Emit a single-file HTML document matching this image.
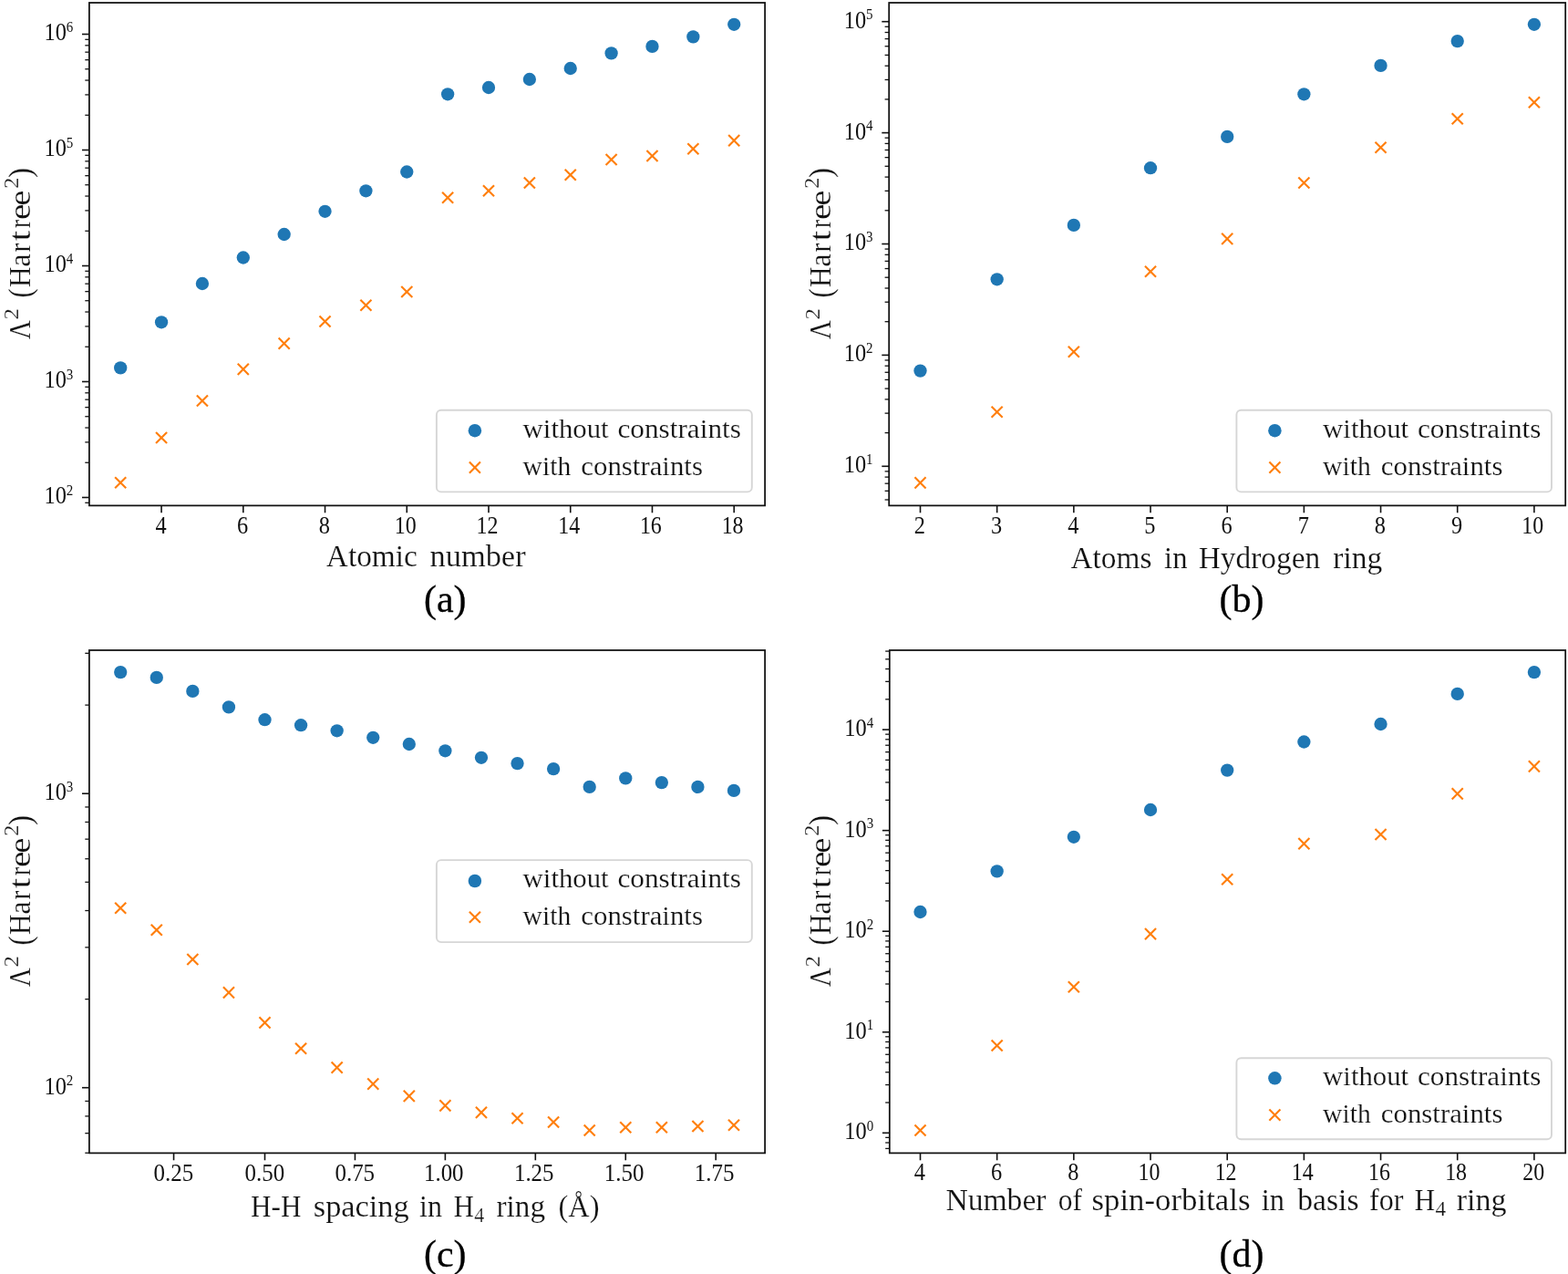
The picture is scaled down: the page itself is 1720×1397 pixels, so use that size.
<!DOCTYPE html>
<html lang="en">
<head>
<meta charset="utf-8">
<title>Figure</title>
<style>
html,body{margin:0;padding:0;background:#fff;}
body{width:1720px;height:1397px;overflow:hidden;}
svg{display:block;}
svg text.tk{stroke:none;}
svg text{font-family:"Liberation Serif",serif;fill:#111;white-space:pre;stroke:#fff;stroke-width:0.2px;}
</style>
</head>
<body>
<svg width="1720" height="1397" viewBox="0 0 1720 1397">
<rect width="1720" height="1397" fill="#fff"/>
<g id="panel-a">
<circle cx="132.2" cy="403.4" r="7.15" fill="#1f77b4"/>
<circle cx="177.07" cy="353.3" r="7.15" fill="#1f77b4"/>
<circle cx="221.93" cy="311" r="7.15" fill="#1f77b4"/>
<circle cx="266.8" cy="282.5" r="7.15" fill="#1f77b4"/>
<circle cx="311.67" cy="257" r="7.15" fill="#1f77b4"/>
<circle cx="356.53" cy="231.8" r="7.15" fill="#1f77b4"/>
<circle cx="401.4" cy="209.3" r="7.15" fill="#1f77b4"/>
<circle cx="446.27" cy="188.5" r="7.15" fill="#1f77b4"/>
<circle cx="491.14" cy="103.3" r="7.15" fill="#1f77b4"/>
<circle cx="536" cy="96" r="7.15" fill="#1f77b4"/>
<circle cx="580.87" cy="87" r="7.15" fill="#1f77b4"/>
<circle cx="625.74" cy="75" r="7.15" fill="#1f77b4"/>
<circle cx="670.6" cy="58.4" r="7.15" fill="#1f77b4"/>
<circle cx="715.47" cy="50.9" r="7.15" fill="#1f77b4"/>
<circle cx="760.34" cy="40.4" r="7.15" fill="#1f77b4"/>
<circle cx="805.2" cy="26.8" r="7.15" fill="#1f77b4"/>
<path d="M126.15 523.15L138.25 535.25M126.15 535.25L138.25 523.15" stroke="#ff7f0e" stroke-width="2.15" fill="none"/>
<path d="M171.02 473.95L183.12 486.05M171.02 486.05L183.12 473.95" stroke="#ff7f0e" stroke-width="2.15" fill="none"/>
<path d="M215.88 433.45L227.98 445.55M215.88 445.55L227.98 433.45" stroke="#ff7f0e" stroke-width="2.15" fill="none"/>
<path d="M260.75 398.85L272.85 410.95M260.75 410.95L272.85 398.85" stroke="#ff7f0e" stroke-width="2.15" fill="none"/>
<path d="M305.62 370.55L317.72 382.65M305.62 382.65L317.72 370.55" stroke="#ff7f0e" stroke-width="2.15" fill="none"/>
<path d="M350.48 346.45L362.58 358.55M350.48 358.55L362.58 346.45" stroke="#ff7f0e" stroke-width="2.15" fill="none"/>
<path d="M395.35 328.75L407.45 340.85M395.35 340.85L407.45 328.75" stroke="#ff7f0e" stroke-width="2.15" fill="none"/>
<path d="M440.22 313.95L452.32 326.05M440.22 326.05L452.32 313.95" stroke="#ff7f0e" stroke-width="2.15" fill="none"/>
<path d="M485.09 210.75L497.19 222.85M485.09 222.85L497.19 210.75" stroke="#ff7f0e" stroke-width="2.15" fill="none"/>
<path d="M529.95 203.25L542.05 215.35M529.95 215.35L542.05 203.25" stroke="#ff7f0e" stroke-width="2.15" fill="none"/>
<path d="M574.82 194.45L586.92 206.55M574.82 206.55L586.92 194.45" stroke="#ff7f0e" stroke-width="2.15" fill="none"/>
<path d="M619.69 185.65L631.79 197.75M619.69 197.75L631.79 185.65" stroke="#ff7f0e" stroke-width="2.15" fill="none"/>
<path d="M664.55 168.95L676.65 181.05M664.55 181.05L676.65 168.95" stroke="#ff7f0e" stroke-width="2.15" fill="none"/>
<path d="M709.42 164.95L721.52 177.05M709.42 177.05L721.52 164.95" stroke="#ff7f0e" stroke-width="2.15" fill="none"/>
<path d="M754.29 157.15L766.39 169.25M754.29 169.25L766.39 157.15" stroke="#ff7f0e" stroke-width="2.15" fill="none"/>
<path d="M799.15 148.05L811.25 160.15M799.15 160.15L811.25 148.05" stroke="#ff7f0e" stroke-width="2.15" fill="none"/>
<rect x="97.9" y="3" width="741.2" height="551.4" fill="none" stroke="#111" stroke-width="1.75"/>
<path d="M177.07 554.4v7.9" stroke="#111" stroke-width="1.6"/>
<text class="tk" transform="translate(176.47 585.2) scale(0.87 1)" font-size="28" text-anchor="middle">4</text>
<path d="M266.8 554.4v7.9" stroke="#111" stroke-width="1.6"/>
<text class="tk" transform="translate(266.2 585.2) scale(0.87 1)" font-size="28" text-anchor="middle">6</text>
<path d="M356.53 554.4v7.9" stroke="#111" stroke-width="1.6"/>
<text class="tk" transform="translate(355.93 585.2) scale(0.87 1)" font-size="28" text-anchor="middle">8</text>
<path d="M446.27 554.4v7.9" stroke="#111" stroke-width="1.6"/>
<text class="tk" transform="translate(444.67 585.2) scale(0.855 1)" font-size="28" text-anchor="middle">10</text>
<path d="M536 554.4v7.9" stroke="#111" stroke-width="1.6"/>
<text class="tk" transform="translate(534.4 585.2) scale(0.855 1)" font-size="28" text-anchor="middle">12</text>
<path d="M625.74 554.4v7.9" stroke="#111" stroke-width="1.6"/>
<text class="tk" transform="translate(624.14 585.2) scale(0.855 1)" font-size="28" text-anchor="middle">14</text>
<path d="M715.47 554.4v7.9" stroke="#111" stroke-width="1.6"/>
<text class="tk" transform="translate(713.87 585.2) scale(0.855 1)" font-size="28" text-anchor="middle">16</text>
<path d="M805.2 554.4v7.9" stroke="#111" stroke-width="1.6"/>
<text class="tk" transform="translate(803.6 585.2) scale(0.855 1)" font-size="28" text-anchor="middle">18</text>
<path d="M97.9 551.31h-4.6" stroke="#111" stroke-width="1.3"/>
<path d="M97.9 545.5h-7.9" stroke="#111" stroke-width="1.6"/>
<text class="tk" transform="translate(80.3 552.4) scale(0.87 1)" font-size="28" text-anchor="end">10<tspan dy="-9.4" font-size="17.2">2</tspan></text>
<path d="M97.9 507.27h-4.6" stroke="#111" stroke-width="1.3"/>
<path d="M97.9 484.91h-4.6" stroke="#111" stroke-width="1.3"/>
<path d="M97.9 469.04h-4.6" stroke="#111" stroke-width="1.3"/>
<path d="M97.9 456.73h-4.6" stroke="#111" stroke-width="1.3"/>
<path d="M97.9 446.67h-4.6" stroke="#111" stroke-width="1.3"/>
<path d="M97.9 438.17h-4.6" stroke="#111" stroke-width="1.3"/>
<path d="M97.9 430.81h-4.6" stroke="#111" stroke-width="1.3"/>
<path d="M97.9 424.31h-4.6" stroke="#111" stroke-width="1.3"/>
<path d="M97.9 418.5h-7.9" stroke="#111" stroke-width="1.6"/>
<text class="tk" transform="translate(80.3 425.4) scale(0.87 1)" font-size="28" text-anchor="end">10<tspan dy="-9.4" font-size="17.2">3</tspan></text>
<path d="M97.9 380.27h-4.6" stroke="#111" stroke-width="1.3"/>
<path d="M97.9 357.91h-4.6" stroke="#111" stroke-width="1.3"/>
<path d="M97.9 342.04h-4.6" stroke="#111" stroke-width="1.3"/>
<path d="M97.9 329.73h-4.6" stroke="#111" stroke-width="1.3"/>
<path d="M97.9 319.67h-4.6" stroke="#111" stroke-width="1.3"/>
<path d="M97.9 311.17h-4.6" stroke="#111" stroke-width="1.3"/>
<path d="M97.9 303.81h-4.6" stroke="#111" stroke-width="1.3"/>
<path d="M97.9 297.31h-4.6" stroke="#111" stroke-width="1.3"/>
<path d="M97.9 291.5h-7.9" stroke="#111" stroke-width="1.6"/>
<text class="tk" transform="translate(80.3 298.4) scale(0.87 1)" font-size="28" text-anchor="end">10<tspan dy="-9.4" font-size="17.2">4</tspan></text>
<path d="M97.9 253.27h-4.6" stroke="#111" stroke-width="1.3"/>
<path d="M97.9 230.91h-4.6" stroke="#111" stroke-width="1.3"/>
<path d="M97.9 215.04h-4.6" stroke="#111" stroke-width="1.3"/>
<path d="M97.9 202.73h-4.6" stroke="#111" stroke-width="1.3"/>
<path d="M97.9 192.67h-4.6" stroke="#111" stroke-width="1.3"/>
<path d="M97.9 184.17h-4.6" stroke="#111" stroke-width="1.3"/>
<path d="M97.9 176.81h-4.6" stroke="#111" stroke-width="1.3"/>
<path d="M97.9 170.31h-4.6" stroke="#111" stroke-width="1.3"/>
<path d="M97.9 164.5h-7.9" stroke="#111" stroke-width="1.6"/>
<text class="tk" transform="translate(80.3 171.4) scale(0.87 1)" font-size="28" text-anchor="end">10<tspan dy="-9.4" font-size="17.2">5</tspan></text>
<path d="M97.9 126.27h-4.6" stroke="#111" stroke-width="1.3"/>
<path d="M97.9 103.91h-4.6" stroke="#111" stroke-width="1.3"/>
<path d="M97.9 88.04h-4.6" stroke="#111" stroke-width="1.3"/>
<path d="M97.9 75.73h-4.6" stroke="#111" stroke-width="1.3"/>
<path d="M97.9 65.67h-4.6" stroke="#111" stroke-width="1.3"/>
<path d="M97.9 57.17h-4.6" stroke="#111" stroke-width="1.3"/>
<path d="M97.9 49.81h-4.6" stroke="#111" stroke-width="1.3"/>
<path d="M97.9 43.31h-4.6" stroke="#111" stroke-width="1.3"/>
<path d="M97.9 37.5h-7.9" stroke="#111" stroke-width="1.6"/>
<text class="tk" transform="translate(80.3 44.4) scale(0.87 1)" font-size="28" text-anchor="end">10<tspan dy="-9.4" font-size="17.2">6</tspan></text>
<text font-size="33"><tspan x="357.8" y="621.2" textLength="100.1" lengthAdjust="spacingAndGlyphs">Atomic</tspan> <tspan x="471.5" y="621.2" textLength="105.1" lengthAdjust="spacingAndGlyphs">number</tspan></text>
<g transform="translate(33 371.6) rotate(-90)"><text font-size="33"><tspan x="-0.35" y="0" textLength="20.78" lengthAdjust="spacingAndGlyphs" font-size="33">Λ</tspan><tspan x="21.05" y="-12.8" textLength="12.43" lengthAdjust="spacingAndGlyphs" font-size="22.5">2</tspan> <tspan x="45.1" y="1" textLength="10" lengthAdjust="spacingAndGlyphs" font-size="36.5">(</tspan><tspan x="56.4" y="0" textLength="22.98" lengthAdjust="spacingAndGlyphs" font-size="33">H</tspan><tspan x="79.2" y="0" textLength="14.07" lengthAdjust="spacingAndGlyphs" font-size="33">a</tspan><tspan x="95.05" y="0" textLength="9.86" lengthAdjust="spacingAndGlyphs" font-size="33">r</tspan><tspan x="107.3" y="0" textLength="11.4" lengthAdjust="spacingAndGlyphs" font-size="33">t</tspan><tspan x="121.7" y="0" textLength="9.01" lengthAdjust="spacingAndGlyphs" font-size="33">r</tspan><tspan x="130.55" y="0" textLength="17.38" lengthAdjust="spacingAndGlyphs" font-size="33">e</tspan><tspan x="145.85" y="0" textLength="17.13" lengthAdjust="spacingAndGlyphs" font-size="33">e</tspan><tspan x="164.9" y="-13.4" textLength="12.06" lengthAdjust="spacingAndGlyphs" font-size="22.5">2</tspan><tspan x="176.55" y="1" textLength="11.18" lengthAdjust="spacingAndGlyphs" font-size="36.5">)</tspan></text></g>
<rect x="478.9" y="449.8" width="345.9" height="89.6" rx="5" ry="5" fill="#fff" fill-opacity="0.8" stroke="#ccc" stroke-opacity="0.8" stroke-width="1.9"/>
<circle cx="520.9" cy="472.2" r="7.25" fill="#1f77b4"/>
<path d="M514.85 506.55L526.95 518.65M514.85 518.65L526.95 506.55" stroke="#ff7f0e" stroke-width="2.15" fill="none"/>
<text font-size="29.5"><tspan x="573.6" y="480.4" textLength="94.1" lengthAdjust="spacingAndGlyphs">without</tspan> <tspan x="677.5" y="480.4" textLength="135.4" lengthAdjust="spacingAndGlyphs">constraints</tspan></text>
<text font-size="29.5"><tspan x="573.6" y="520.7" textLength="52.6" lengthAdjust="spacingAndGlyphs">with</tspan> <tspan x="637.3" y="520.7" textLength="133.6" lengthAdjust="spacingAndGlyphs">constraints</tspan></text>
<text x="488.3" y="671.2" font-size="42" text-anchor="middle" style="fill:#000;stroke:#000;stroke-width:0.3px">(a)</text>
</g>
<g id="panel-b">
<circle cx="1009.5" cy="406.6" r="7.15" fill="#1f77b4"/>
<circle cx="1093.67" cy="306.3" r="7.15" fill="#1f77b4"/>
<circle cx="1177.85" cy="246.9" r="7.15" fill="#1f77b4"/>
<circle cx="1262.03" cy="184.2" r="7.15" fill="#1f77b4"/>
<circle cx="1346.2" cy="149.9" r="7.15" fill="#1f77b4"/>
<circle cx="1430.38" cy="103.3" r="7.15" fill="#1f77b4"/>
<circle cx="1514.55" cy="71.9" r="7.15" fill="#1f77b4"/>
<circle cx="1598.72" cy="45.1" r="7.15" fill="#1f77b4"/>
<circle cx="1682.9" cy="26.8" r="7.15" fill="#1f77b4"/>
<path d="M1003.45 523.35L1015.55 535.45M1003.45 535.45L1015.55 523.35" stroke="#ff7f0e" stroke-width="2.15" fill="none"/>
<path d="M1087.62 445.75L1099.72 457.85M1087.62 457.85L1099.72 445.75" stroke="#ff7f0e" stroke-width="2.15" fill="none"/>
<path d="M1171.8 379.75L1183.9 391.85M1171.8 391.85L1183.9 379.75" stroke="#ff7f0e" stroke-width="2.15" fill="none"/>
<path d="M1255.98 291.65L1268.08 303.75M1255.98 303.75L1268.08 291.65" stroke="#ff7f0e" stroke-width="2.15" fill="none"/>
<path d="M1340.15 255.85L1352.25 267.95M1340.15 267.95L1352.25 255.85" stroke="#ff7f0e" stroke-width="2.15" fill="none"/>
<path d="M1424.33 194.45L1436.42 206.55M1424.33 206.55L1436.42 194.45" stroke="#ff7f0e" stroke-width="2.15" fill="none"/>
<path d="M1508.5 155.65L1520.6 167.75M1508.5 167.75L1520.6 155.65" stroke="#ff7f0e" stroke-width="2.15" fill="none"/>
<path d="M1592.67 124.25L1604.77 136.35M1592.67 136.35L1604.77 124.25" stroke="#ff7f0e" stroke-width="2.15" fill="none"/>
<path d="M1676.85 106.25L1688.95 118.35M1676.85 118.35L1688.95 106.25" stroke="#ff7f0e" stroke-width="2.15" fill="none"/>
<rect x="975.2" y="3" width="742" height="551.4" fill="none" stroke="#111" stroke-width="1.75"/>
<path d="M1009.5 554.4v7.9" stroke="#111" stroke-width="1.6"/>
<text class="tk" transform="translate(1008.9 585.2) scale(0.87 1)" font-size="28" text-anchor="middle">2</text>
<path d="M1093.67 554.4v7.9" stroke="#111" stroke-width="1.6"/>
<text class="tk" transform="translate(1093.08 585.2) scale(0.87 1)" font-size="28" text-anchor="middle">3</text>
<path d="M1177.85 554.4v7.9" stroke="#111" stroke-width="1.6"/>
<text class="tk" transform="translate(1177.25 585.2) scale(0.87 1)" font-size="28" text-anchor="middle">4</text>
<path d="M1262.03 554.4v7.9" stroke="#111" stroke-width="1.6"/>
<text class="tk" transform="translate(1261.43 585.2) scale(0.87 1)" font-size="28" text-anchor="middle">5</text>
<path d="M1346.2 554.4v7.9" stroke="#111" stroke-width="1.6"/>
<text class="tk" transform="translate(1345.6 585.2) scale(0.87 1)" font-size="28" text-anchor="middle">6</text>
<path d="M1430.38 554.4v7.9" stroke="#111" stroke-width="1.6"/>
<text class="tk" transform="translate(1429.78 585.2) scale(0.87 1)" font-size="28" text-anchor="middle">7</text>
<path d="M1514.55 554.4v7.9" stroke="#111" stroke-width="1.6"/>
<text class="tk" transform="translate(1513.95 585.2) scale(0.87 1)" font-size="28" text-anchor="middle">8</text>
<path d="M1598.72 554.4v7.9" stroke="#111" stroke-width="1.6"/>
<text class="tk" transform="translate(1598.12 585.2) scale(0.87 1)" font-size="28" text-anchor="middle">9</text>
<path d="M1682.9 554.4v7.9" stroke="#111" stroke-width="1.6"/>
<text class="tk" transform="translate(1681.3 585.2) scale(0.855 1)" font-size="28" text-anchor="middle">10</text>
<path d="M975.2 548h-4.6" stroke="#111" stroke-width="1.3"/>
<path d="M975.2 538.34h-4.6" stroke="#111" stroke-width="1.3"/>
<path d="M975.2 530.18h-4.6" stroke="#111" stroke-width="1.3"/>
<path d="M975.2 523.11h-4.6" stroke="#111" stroke-width="1.3"/>
<path d="M975.2 516.88h-4.6" stroke="#111" stroke-width="1.3"/>
<path d="M975.2 511.3h-7.9" stroke="#111" stroke-width="1.6"/>
<text class="tk" transform="translate(957.6 518.2) scale(0.87 1)" font-size="28" text-anchor="end">10<tspan dy="-9.4" font-size="17.2">1</tspan></text>
<path d="M975.2 474.6h-4.6" stroke="#111" stroke-width="1.3"/>
<path d="M975.2 453.14h-4.6" stroke="#111" stroke-width="1.3"/>
<path d="M975.2 437.91h-4.6" stroke="#111" stroke-width="1.3"/>
<path d="M975.2 426.1h-4.6" stroke="#111" stroke-width="1.3"/>
<path d="M975.2 416.44h-4.6" stroke="#111" stroke-width="1.3"/>
<path d="M975.2 408.28h-4.6" stroke="#111" stroke-width="1.3"/>
<path d="M975.2 401.21h-4.6" stroke="#111" stroke-width="1.3"/>
<path d="M975.2 394.98h-4.6" stroke="#111" stroke-width="1.3"/>
<path d="M975.2 389.4h-7.9" stroke="#111" stroke-width="1.6"/>
<text class="tk" transform="translate(957.6 396.3) scale(0.87 1)" font-size="28" text-anchor="end">10<tspan dy="-9.4" font-size="17.2">2</tspan></text>
<path d="M975.2 352.7h-4.6" stroke="#111" stroke-width="1.3"/>
<path d="M975.2 331.24h-4.6" stroke="#111" stroke-width="1.3"/>
<path d="M975.2 316.01h-4.6" stroke="#111" stroke-width="1.3"/>
<path d="M975.2 304.2h-4.6" stroke="#111" stroke-width="1.3"/>
<path d="M975.2 294.54h-4.6" stroke="#111" stroke-width="1.3"/>
<path d="M975.2 286.38h-4.6" stroke="#111" stroke-width="1.3"/>
<path d="M975.2 279.31h-4.6" stroke="#111" stroke-width="1.3"/>
<path d="M975.2 273.08h-4.6" stroke="#111" stroke-width="1.3"/>
<path d="M975.2 267.5h-7.9" stroke="#111" stroke-width="1.6"/>
<text class="tk" transform="translate(957.6 274.4) scale(0.87 1)" font-size="28" text-anchor="end">10<tspan dy="-9.4" font-size="17.2">3</tspan></text>
<path d="M975.2 230.8h-4.6" stroke="#111" stroke-width="1.3"/>
<path d="M975.2 209.34h-4.6" stroke="#111" stroke-width="1.3"/>
<path d="M975.2 194.11h-4.6" stroke="#111" stroke-width="1.3"/>
<path d="M975.2 182.3h-4.6" stroke="#111" stroke-width="1.3"/>
<path d="M975.2 172.64h-4.6" stroke="#111" stroke-width="1.3"/>
<path d="M975.2 164.48h-4.6" stroke="#111" stroke-width="1.3"/>
<path d="M975.2 157.41h-4.6" stroke="#111" stroke-width="1.3"/>
<path d="M975.2 151.18h-4.6" stroke="#111" stroke-width="1.3"/>
<path d="M975.2 145.6h-7.9" stroke="#111" stroke-width="1.6"/>
<text class="tk" transform="translate(957.6 152.5) scale(0.87 1)" font-size="28" text-anchor="end">10<tspan dy="-9.4" font-size="17.2">4</tspan></text>
<path d="M975.2 108.9h-4.6" stroke="#111" stroke-width="1.3"/>
<path d="M975.2 87.44h-4.6" stroke="#111" stroke-width="1.3"/>
<path d="M975.2 72.21h-4.6" stroke="#111" stroke-width="1.3"/>
<path d="M975.2 60.4h-4.6" stroke="#111" stroke-width="1.3"/>
<path d="M975.2 50.74h-4.6" stroke="#111" stroke-width="1.3"/>
<path d="M975.2 42.58h-4.6" stroke="#111" stroke-width="1.3"/>
<path d="M975.2 35.51h-4.6" stroke="#111" stroke-width="1.3"/>
<path d="M975.2 29.28h-4.6" stroke="#111" stroke-width="1.3"/>
<path d="M975.2 23.7h-7.9" stroke="#111" stroke-width="1.6"/>
<text class="tk" transform="translate(957.6 30.6) scale(0.87 1)" font-size="28" text-anchor="end">10<tspan dy="-9.4" font-size="17.2">5</tspan></text>
<text font-size="33"><tspan x="1174.4" y="623.3" textLength="89" lengthAdjust="spacingAndGlyphs">Atoms</tspan> <tspan x="1277.1" y="623.3" textLength="25.4" lengthAdjust="spacingAndGlyphs">in</tspan> <tspan x="1314.7" y="623.3" textLength="133.6" lengthAdjust="spacingAndGlyphs">Hydrogen</tspan> <tspan x="1462.3" y="623.3" textLength="53.9" lengthAdjust="spacingAndGlyphs">ring</tspan></text>
<g transform="translate(911.4 371.6) rotate(-90)"><text font-size="33"><tspan x="-0.35" y="0" textLength="20.78" lengthAdjust="spacingAndGlyphs" font-size="33">Λ</tspan><tspan x="21.05" y="-12.8" textLength="12.43" lengthAdjust="spacingAndGlyphs" font-size="22.5">2</tspan> <tspan x="45.1" y="1" textLength="10" lengthAdjust="spacingAndGlyphs" font-size="36.5">(</tspan><tspan x="56.4" y="0" textLength="22.98" lengthAdjust="spacingAndGlyphs" font-size="33">H</tspan><tspan x="79.2" y="0" textLength="14.07" lengthAdjust="spacingAndGlyphs" font-size="33">a</tspan><tspan x="95.05" y="0" textLength="9.86" lengthAdjust="spacingAndGlyphs" font-size="33">r</tspan><tspan x="107.3" y="0" textLength="11.4" lengthAdjust="spacingAndGlyphs" font-size="33">t</tspan><tspan x="121.7" y="0" textLength="9.01" lengthAdjust="spacingAndGlyphs" font-size="33">r</tspan><tspan x="130.55" y="0" textLength="17.38" lengthAdjust="spacingAndGlyphs" font-size="33">e</tspan><tspan x="145.85" y="0" textLength="17.13" lengthAdjust="spacingAndGlyphs" font-size="33">e</tspan><tspan x="164.9" y="-13.4" textLength="12.06" lengthAdjust="spacingAndGlyphs" font-size="22.5">2</tspan><tspan x="176.55" y="1" textLength="11.18" lengthAdjust="spacingAndGlyphs" font-size="36.5">)</tspan></text></g>
<rect x="1356.4" y="449.8" width="345.6" height="89.6" rx="5" ry="5" fill="#fff" fill-opacity="0.8" stroke="#ccc" stroke-opacity="0.8" stroke-width="1.9"/>
<circle cx="1398.4" cy="472.2" r="7.25" fill="#1f77b4"/>
<path d="M1392.35 506.55L1404.45 518.65M1392.35 518.65L1404.45 506.55" stroke="#ff7f0e" stroke-width="2.15" fill="none"/>
<text font-size="29.5"><tspan x="1451.1" y="480.4" textLength="94.1" lengthAdjust="spacingAndGlyphs">without</tspan> <tspan x="1555" y="480.4" textLength="135.4" lengthAdjust="spacingAndGlyphs">constraints</tspan></text>
<text font-size="29.5"><tspan x="1451.1" y="520.7" textLength="52.6" lengthAdjust="spacingAndGlyphs">with</tspan> <tspan x="1514.8" y="520.7" textLength="133.6" lengthAdjust="spacingAndGlyphs">constraints</tspan></text>
<text x="1362.1" y="671.2" font-size="42" text-anchor="middle" style="fill:#000;stroke:#000;stroke-width:0.3px">(b)</text>
</g>
<g id="panel-c">
<circle cx="132.2" cy="737.1" r="7.15" fill="#1f77b4"/>
<circle cx="171.78" cy="742.9" r="7.15" fill="#1f77b4"/>
<circle cx="211.35" cy="757.9" r="7.15" fill="#1f77b4"/>
<circle cx="250.93" cy="775.4" r="7.15" fill="#1f77b4"/>
<circle cx="290.5" cy="789.2" r="7.15" fill="#1f77b4"/>
<circle cx="330.08" cy="795.2" r="7.15" fill="#1f77b4"/>
<circle cx="369.66" cy="801.3" r="7.15" fill="#1f77b4"/>
<circle cx="409.23" cy="808.8" r="7.15" fill="#1f77b4"/>
<circle cx="448.81" cy="816" r="7.15" fill="#1f77b4"/>
<circle cx="488.38" cy="823.3" r="7.15" fill="#1f77b4"/>
<circle cx="527.96" cy="830.8" r="7.15" fill="#1f77b4"/>
<circle cx="567.54" cy="837.1" r="7.15" fill="#1f77b4"/>
<circle cx="607.11" cy="843.1" r="7.15" fill="#1f77b4"/>
<circle cx="646.69" cy="862.9" r="7.15" fill="#1f77b4"/>
<circle cx="686.26" cy="853.4" r="7.15" fill="#1f77b4"/>
<circle cx="725.84" cy="858.1" r="7.15" fill="#1f77b4"/>
<circle cx="765.42" cy="862.9" r="7.15" fill="#1f77b4"/>
<circle cx="804.99" cy="866.9" r="7.15" fill="#1f77b4"/>
<path d="M126.15 989.65L138.25 1001.75M126.15 1001.75L138.25 989.65" stroke="#ff7f0e" stroke-width="2.15" fill="none"/>
<path d="M165.73 1013.75L177.83 1025.85M165.73 1025.85L177.83 1013.75" stroke="#ff7f0e" stroke-width="2.15" fill="none"/>
<path d="M205.3 1045.95L217.4 1058.05M205.3 1058.05L217.4 1045.95" stroke="#ff7f0e" stroke-width="2.15" fill="none"/>
<path d="M244.88 1082.35L256.98 1094.45M244.88 1094.45L256.98 1082.35" stroke="#ff7f0e" stroke-width="2.15" fill="none"/>
<path d="M284.45 1115.35L296.55 1127.45M284.45 1127.45L296.55 1115.35" stroke="#ff7f0e" stroke-width="2.15" fill="none"/>
<path d="M324.03 1143.75L336.13 1155.85M324.03 1155.85L336.13 1143.75" stroke="#ff7f0e" stroke-width="2.15" fill="none"/>
<path d="M363.61 1164.55L375.71 1176.65M363.61 1176.65L375.71 1164.55" stroke="#ff7f0e" stroke-width="2.15" fill="none"/>
<path d="M403.18 1182.55L415.28 1194.65M403.18 1194.65L415.28 1182.55" stroke="#ff7f0e" stroke-width="2.15" fill="none"/>
<path d="M442.76 1195.85L454.86 1207.95M442.76 1207.95L454.86 1195.85" stroke="#ff7f0e" stroke-width="2.15" fill="none"/>
<path d="M482.33 1206.35L494.43 1218.45M482.33 1218.45L494.43 1206.35" stroke="#ff7f0e" stroke-width="2.15" fill="none"/>
<path d="M521.91 1213.85L534.01 1225.95M521.91 1225.95L534.01 1213.85" stroke="#ff7f0e" stroke-width="2.15" fill="none"/>
<path d="M561.49 1220.15L573.59 1232.25M561.49 1232.25L573.59 1220.15" stroke="#ff7f0e" stroke-width="2.15" fill="none"/>
<path d="M601.06 1224.45L613.16 1236.55M601.06 1236.55L613.16 1224.45" stroke="#ff7f0e" stroke-width="2.15" fill="none"/>
<path d="M640.64 1233.45L652.74 1245.55M640.64 1245.55L652.74 1233.45" stroke="#ff7f0e" stroke-width="2.15" fill="none"/>
<path d="M680.21 1230.15L692.31 1242.25M680.21 1242.25L692.31 1230.15" stroke="#ff7f0e" stroke-width="2.15" fill="none"/>
<path d="M719.79 1230.15L731.89 1242.25M719.79 1242.25L731.89 1230.15" stroke="#ff7f0e" stroke-width="2.15" fill="none"/>
<path d="M759.37 1228.95L771.47 1241.05M759.37 1241.05L771.47 1228.95" stroke="#ff7f0e" stroke-width="2.15" fill="none"/>
<path d="M798.94 1227.65L811.04 1239.75M798.94 1239.75L811.04 1227.65" stroke="#ff7f0e" stroke-width="2.15" fill="none"/>
<rect x="97.9" y="713" width="741.2" height="551.4" fill="none" stroke="#111" stroke-width="1.75"/>
<path d="M190.56 1264.4v7.9" stroke="#111" stroke-width="1.6"/>
<text class="tk" transform="translate(190.36 1294.9) scale(0.89 1)" font-size="28" text-anchor="middle">0.25</text>
<path d="M290.5 1264.4v7.9" stroke="#111" stroke-width="1.6"/>
<text class="tk" transform="translate(290.3 1294.9) scale(0.89 1)" font-size="28" text-anchor="middle">0.50</text>
<path d="M389.44 1264.4v7.9" stroke="#111" stroke-width="1.6"/>
<text class="tk" transform="translate(389.24 1294.9) scale(0.89 1)" font-size="28" text-anchor="middle">0.75</text>
<path d="M488.38 1264.4v7.9" stroke="#111" stroke-width="1.6"/>
<text class="tk" transform="translate(486.78 1294.9) scale(0.89 1)" font-size="28" text-anchor="middle">1.00</text>
<path d="M587.32 1264.4v7.9" stroke="#111" stroke-width="1.6"/>
<text class="tk" transform="translate(585.72 1294.9) scale(0.89 1)" font-size="28" text-anchor="middle">1.25</text>
<path d="M686.26 1264.4v7.9" stroke="#111" stroke-width="1.6"/>
<text class="tk" transform="translate(684.66 1294.9) scale(0.89 1)" font-size="28" text-anchor="middle">1.50</text>
<path d="M785.2 1264.4v7.9" stroke="#111" stroke-width="1.6"/>
<text class="tk" transform="translate(783.6 1294.9) scale(0.89 1)" font-size="28" text-anchor="middle">1.75</text>
<path d="M97.9 1264.25h-4.6" stroke="#111" stroke-width="1.3"/>
<path d="M97.9 1242.66h-4.6" stroke="#111" stroke-width="1.3"/>
<path d="M97.9 1223.95h-4.6" stroke="#111" stroke-width="1.3"/>
<path d="M97.9 1207.46h-4.6" stroke="#111" stroke-width="1.3"/>
<path d="M97.9 1192.7h-7.9" stroke="#111" stroke-width="1.6"/>
<text class="tk" transform="translate(80.3 1199.6) scale(0.87 1)" font-size="28" text-anchor="end">10<tspan dy="-9.4" font-size="17.2">2</tspan></text>
<path d="M97.9 1095.62h-4.6" stroke="#111" stroke-width="1.3"/>
<path d="M97.9 1038.83h-4.6" stroke="#111" stroke-width="1.3"/>
<path d="M97.9 998.54h-4.6" stroke="#111" stroke-width="1.3"/>
<path d="M97.9 967.28h-4.6" stroke="#111" stroke-width="1.3"/>
<path d="M97.9 941.75h-4.6" stroke="#111" stroke-width="1.3"/>
<path d="M97.9 920.16h-4.6" stroke="#111" stroke-width="1.3"/>
<path d="M97.9 901.45h-4.6" stroke="#111" stroke-width="1.3"/>
<path d="M97.9 884.96h-4.6" stroke="#111" stroke-width="1.3"/>
<path d="M97.9 870.2h-7.9" stroke="#111" stroke-width="1.6"/>
<text class="tk" transform="translate(80.3 877.1) scale(0.87 1)" font-size="28" text-anchor="end">10<tspan dy="-9.4" font-size="17.2">3</tspan></text>
<path d="M97.9 773.12h-4.6" stroke="#111" stroke-width="1.3"/>
<path d="M97.9 716.33h-4.6" stroke="#111" stroke-width="1.3"/>
<text font-size="33"><tspan x="275" y="1333.8" textLength="55.5" lengthAdjust="spacingAndGlyphs">H-H</tspan> <tspan x="343.75" y="1333.8" textLength="105" lengthAdjust="spacingAndGlyphs">spacing</tspan> <tspan x="460" y="1333.8" textLength="25" lengthAdjust="spacingAndGlyphs">in</tspan> <tspan x="497.5" y="1333.8" textLength="22.5" lengthAdjust="spacingAndGlyphs">H</tspan><tspan x="520.3" y="1340.3" textLength="11" lengthAdjust="spacingAndGlyphs" font-size="22.5">4</tspan> <tspan x="544.5" y="1333.8" textLength="53.5" lengthAdjust="spacingAndGlyphs">ring</tspan> <tspan x="612.5" y="1333.8" textLength="45" lengthAdjust="spacingAndGlyphs">(Å)</tspan></text>
<g transform="translate(33 1081.6) rotate(-90)"><text font-size="33"><tspan x="-0.35" y="0" textLength="20.78" lengthAdjust="spacingAndGlyphs" font-size="33">Λ</tspan><tspan x="21.05" y="-12.8" textLength="12.43" lengthAdjust="spacingAndGlyphs" font-size="22.5">2</tspan> <tspan x="45.1" y="1" textLength="10" lengthAdjust="spacingAndGlyphs" font-size="36.5">(</tspan><tspan x="56.4" y="0" textLength="22.98" lengthAdjust="spacingAndGlyphs" font-size="33">H</tspan><tspan x="79.2" y="0" textLength="14.07" lengthAdjust="spacingAndGlyphs" font-size="33">a</tspan><tspan x="95.05" y="0" textLength="9.86" lengthAdjust="spacingAndGlyphs" font-size="33">r</tspan><tspan x="107.3" y="0" textLength="11.4" lengthAdjust="spacingAndGlyphs" font-size="33">t</tspan><tspan x="121.7" y="0" textLength="9.01" lengthAdjust="spacingAndGlyphs" font-size="33">r</tspan><tspan x="130.55" y="0" textLength="17.38" lengthAdjust="spacingAndGlyphs" font-size="33">e</tspan><tspan x="145.85" y="0" textLength="17.13" lengthAdjust="spacingAndGlyphs" font-size="33">e</tspan><tspan x="164.9" y="-13.4" textLength="12.06" lengthAdjust="spacingAndGlyphs" font-size="22.5">2</tspan><tspan x="176.55" y="1" textLength="11.18" lengthAdjust="spacingAndGlyphs" font-size="36.5">)</tspan></text></g>
<rect x="478.9" y="943.1" width="345.9" height="90" rx="5" ry="5" fill="#fff" fill-opacity="0.8" stroke="#ccc" stroke-opacity="0.8" stroke-width="1.9"/>
<circle cx="520.9" cy="966" r="7.25" fill="#1f77b4"/>
<path d="M514.85 999.65L526.95 1011.75M514.85 1011.75L526.95 999.65" stroke="#ff7f0e" stroke-width="2.15" fill="none"/>
<text font-size="29.5"><tspan x="573.6" y="973.3" textLength="94.1" lengthAdjust="spacingAndGlyphs">without</tspan> <tspan x="677.5" y="973.3" textLength="135.4" lengthAdjust="spacingAndGlyphs">constraints</tspan></text>
<text font-size="29.5"><tspan x="573.6" y="1013.7" textLength="52.6" lengthAdjust="spacingAndGlyphs">with</tspan> <tspan x="637.3" y="1013.7" textLength="133.6" lengthAdjust="spacingAndGlyphs">constraints</tspan></text>
<text x="488.3" y="1389" font-size="42" text-anchor="middle" style="fill:#000;stroke:#000;stroke-width:0.3px">(c)</text>
</g>
<g id="panel-d">
<circle cx="1009.5" cy="1000" r="7.15" fill="#1f77b4"/>
<circle cx="1093.67" cy="955.4" r="7.15" fill="#1f77b4"/>
<circle cx="1177.85" cy="917.8" r="7.15" fill="#1f77b4"/>
<circle cx="1262.03" cy="888" r="7.15" fill="#1f77b4"/>
<circle cx="1346.2" cy="844.6" r="7.15" fill="#1f77b4"/>
<circle cx="1430.38" cy="813.5" r="7.15" fill="#1f77b4"/>
<circle cx="1514.55" cy="794" r="7.15" fill="#1f77b4"/>
<circle cx="1598.72" cy="760.9" r="7.15" fill="#1f77b4"/>
<circle cx="1682.9" cy="737.1" r="7.15" fill="#1f77b4"/>
<path d="M1003.45 1233.45L1015.55 1245.55M1003.45 1245.55L1015.55 1233.45" stroke="#ff7f0e" stroke-width="2.15" fill="none"/>
<path d="M1087.62 1140.45L1099.72 1152.55M1087.62 1152.55L1099.72 1140.45" stroke="#ff7f0e" stroke-width="2.15" fill="none"/>
<path d="M1171.8 1076.25L1183.9 1088.35M1171.8 1088.35L1183.9 1076.25" stroke="#ff7f0e" stroke-width="2.15" fill="none"/>
<path d="M1255.98 1018.05L1268.08 1030.15M1255.98 1030.15L1268.08 1018.05" stroke="#ff7f0e" stroke-width="2.15" fill="none"/>
<path d="M1340.15 958.15L1352.25 970.25M1340.15 970.25L1352.25 958.15" stroke="#ff7f0e" stroke-width="2.15" fill="none"/>
<path d="M1424.33 919.05L1436.42 931.15M1424.33 931.15L1436.42 919.05" stroke="#ff7f0e" stroke-width="2.15" fill="none"/>
<path d="M1508.5 908.95L1520.6 921.05M1508.5 921.05L1520.6 908.95" stroke="#ff7f0e" stroke-width="2.15" fill="none"/>
<path d="M1592.67 864.35L1604.77 876.45M1592.67 876.45L1604.77 864.35" stroke="#ff7f0e" stroke-width="2.15" fill="none"/>
<path d="M1676.85 834.35L1688.95 846.45M1676.85 846.45L1688.95 834.35" stroke="#ff7f0e" stroke-width="2.15" fill="none"/>
<rect x="975.8" y="713" width="741.4" height="551.4" fill="none" stroke="#111" stroke-width="1.75"/>
<path d="M1009.5 1264.4v7.9" stroke="#111" stroke-width="1.6"/>
<text class="tk" transform="translate(1008.9 1294) scale(0.87 1)" font-size="28" text-anchor="middle">4</text>
<path d="M1093.67 1264.4v7.9" stroke="#111" stroke-width="1.6"/>
<text class="tk" transform="translate(1093.08 1294) scale(0.87 1)" font-size="28" text-anchor="middle">6</text>
<path d="M1177.85 1264.4v7.9" stroke="#111" stroke-width="1.6"/>
<text class="tk" transform="translate(1177.25 1294) scale(0.87 1)" font-size="28" text-anchor="middle">8</text>
<path d="M1262.03 1264.4v7.9" stroke="#111" stroke-width="1.6"/>
<text class="tk" transform="translate(1260.43 1294) scale(0.855 1)" font-size="28" text-anchor="middle">10</text>
<path d="M1346.2 1264.4v7.9" stroke="#111" stroke-width="1.6"/>
<text class="tk" transform="translate(1344.6 1294) scale(0.855 1)" font-size="28" text-anchor="middle">12</text>
<path d="M1430.38 1264.4v7.9" stroke="#111" stroke-width="1.6"/>
<text class="tk" transform="translate(1428.78 1294) scale(0.855 1)" font-size="28" text-anchor="middle">14</text>
<path d="M1514.55 1264.4v7.9" stroke="#111" stroke-width="1.6"/>
<text class="tk" transform="translate(1512.95 1294) scale(0.855 1)" font-size="28" text-anchor="middle">16</text>
<path d="M1598.72 1264.4v7.9" stroke="#111" stroke-width="1.6"/>
<text class="tk" transform="translate(1597.12 1294) scale(0.855 1)" font-size="28" text-anchor="middle">18</text>
<path d="M1682.9 1264.4v7.9" stroke="#111" stroke-width="1.6"/>
<text class="tk" transform="translate(1682.3 1294) scale(0.855 1)" font-size="28" text-anchor="middle">20</text>
<path d="M975.8 1259.42h-4.6" stroke="#111" stroke-width="1.3"/>
<path d="M975.8 1253.01h-4.6" stroke="#111" stroke-width="1.3"/>
<path d="M975.8 1247.36h-4.6" stroke="#111" stroke-width="1.3"/>
<path d="M975.8 1242.3h-7.9" stroke="#111" stroke-width="1.6"/>
<text class="tk" transform="translate(958.2 1249.2) scale(0.87 1)" font-size="28" text-anchor="end">10<tspan dy="-9.4" font-size="17.2">0</tspan></text>
<path d="M975.8 1209.02h-4.6" stroke="#111" stroke-width="1.3"/>
<path d="M975.8 1189.55h-4.6" stroke="#111" stroke-width="1.3"/>
<path d="M975.8 1175.74h-4.6" stroke="#111" stroke-width="1.3"/>
<path d="M975.8 1165.03h-4.6" stroke="#111" stroke-width="1.3"/>
<path d="M975.8 1156.28h-4.6" stroke="#111" stroke-width="1.3"/>
<path d="M975.8 1148.87h-4.6" stroke="#111" stroke-width="1.3"/>
<path d="M975.8 1142.46h-4.6" stroke="#111" stroke-width="1.3"/>
<path d="M975.8 1136.81h-4.6" stroke="#111" stroke-width="1.3"/>
<path d="M975.8 1131.75h-7.9" stroke="#111" stroke-width="1.6"/>
<text class="tk" transform="translate(958.2 1138.65) scale(0.87 1)" font-size="28" text-anchor="end">10<tspan dy="-9.4" font-size="17.2">1</tspan></text>
<path d="M975.8 1098.47h-4.6" stroke="#111" stroke-width="1.3"/>
<path d="M975.8 1079h-4.6" stroke="#111" stroke-width="1.3"/>
<path d="M975.8 1065.19h-4.6" stroke="#111" stroke-width="1.3"/>
<path d="M975.8 1054.48h-4.6" stroke="#111" stroke-width="1.3"/>
<path d="M975.8 1045.73h-4.6" stroke="#111" stroke-width="1.3"/>
<path d="M975.8 1038.32h-4.6" stroke="#111" stroke-width="1.3"/>
<path d="M975.8 1031.91h-4.6" stroke="#111" stroke-width="1.3"/>
<path d="M975.8 1026.26h-4.6" stroke="#111" stroke-width="1.3"/>
<path d="M975.8 1021.2h-7.9" stroke="#111" stroke-width="1.6"/>
<text class="tk" transform="translate(958.2 1028.1) scale(0.87 1)" font-size="28" text-anchor="end">10<tspan dy="-9.4" font-size="17.2">2</tspan></text>
<path d="M975.8 987.92h-4.6" stroke="#111" stroke-width="1.3"/>
<path d="M975.8 968.45h-4.6" stroke="#111" stroke-width="1.3"/>
<path d="M975.8 954.64h-4.6" stroke="#111" stroke-width="1.3"/>
<path d="M975.8 943.93h-4.6" stroke="#111" stroke-width="1.3"/>
<path d="M975.8 935.18h-4.6" stroke="#111" stroke-width="1.3"/>
<path d="M975.8 927.77h-4.6" stroke="#111" stroke-width="1.3"/>
<path d="M975.8 921.36h-4.6" stroke="#111" stroke-width="1.3"/>
<path d="M975.8 915.71h-4.6" stroke="#111" stroke-width="1.3"/>
<path d="M975.8 910.65h-7.9" stroke="#111" stroke-width="1.6"/>
<text class="tk" transform="translate(958.2 917.55) scale(0.87 1)" font-size="28" text-anchor="end">10<tspan dy="-9.4" font-size="17.2">3</tspan></text>
<path d="M975.8 877.37h-4.6" stroke="#111" stroke-width="1.3"/>
<path d="M975.8 857.9h-4.6" stroke="#111" stroke-width="1.3"/>
<path d="M975.8 844.09h-4.6" stroke="#111" stroke-width="1.3"/>
<path d="M975.8 833.38h-4.6" stroke="#111" stroke-width="1.3"/>
<path d="M975.8 824.63h-4.6" stroke="#111" stroke-width="1.3"/>
<path d="M975.8 817.22h-4.6" stroke="#111" stroke-width="1.3"/>
<path d="M975.8 810.81h-4.6" stroke="#111" stroke-width="1.3"/>
<path d="M975.8 805.16h-4.6" stroke="#111" stroke-width="1.3"/>
<path d="M975.8 800.1h-7.9" stroke="#111" stroke-width="1.6"/>
<text class="tk" transform="translate(958.2 807) scale(0.87 1)" font-size="28" text-anchor="end">10<tspan dy="-9.4" font-size="17.2">4</tspan></text>
<path d="M975.8 766.82h-4.6" stroke="#111" stroke-width="1.3"/>
<path d="M975.8 747.35h-4.6" stroke="#111" stroke-width="1.3"/>
<path d="M975.8 733.54h-4.6" stroke="#111" stroke-width="1.3"/>
<path d="M975.8 722.83h-4.6" stroke="#111" stroke-width="1.3"/>
<path d="M975.8 714.08h-4.6" stroke="#111" stroke-width="1.3"/>
<text font-size="33"><tspan x="1037.4" y="1326.8" textLength="110.1" lengthAdjust="spacingAndGlyphs">Number</tspan> <tspan x="1160.7" y="1326.8" textLength="26.3" lengthAdjust="spacingAndGlyphs">of</tspan> <tspan x="1197.5" y="1326.8" textLength="174" lengthAdjust="spacingAndGlyphs">spin-orbitals</tspan> <tspan x="1383.8" y="1326.8" textLength="25.3" lengthAdjust="spacingAndGlyphs">in</tspan> <tspan x="1423.3" y="1326.8" textLength="67.2" lengthAdjust="spacingAndGlyphs">basis</tspan> <tspan x="1502" y="1326.8" textLength="37.5" lengthAdjust="spacingAndGlyphs">for</tspan> <tspan x="1551.4" y="1326.8" textLength="22.7" lengthAdjust="spacingAndGlyphs">H</tspan><tspan x="1574.4" y="1333.3" textLength="11.6" lengthAdjust="spacingAndGlyphs" font-size="22.5">4</tspan> <tspan x="1597.8" y="1326.8" textLength="54.8" lengthAdjust="spacingAndGlyphs">ring</tspan></text>
<g transform="translate(911.4 1081.6) rotate(-90)"><text font-size="33"><tspan x="-0.35" y="0" textLength="20.78" lengthAdjust="spacingAndGlyphs" font-size="33">Λ</tspan><tspan x="21.05" y="-12.8" textLength="12.43" lengthAdjust="spacingAndGlyphs" font-size="22.5">2</tspan> <tspan x="45.1" y="1" textLength="10" lengthAdjust="spacingAndGlyphs" font-size="36.5">(</tspan><tspan x="56.4" y="0" textLength="22.98" lengthAdjust="spacingAndGlyphs" font-size="33">H</tspan><tspan x="79.2" y="0" textLength="14.07" lengthAdjust="spacingAndGlyphs" font-size="33">a</tspan><tspan x="95.05" y="0" textLength="9.86" lengthAdjust="spacingAndGlyphs" font-size="33">r</tspan><tspan x="107.3" y="0" textLength="11.4" lengthAdjust="spacingAndGlyphs" font-size="33">t</tspan><tspan x="121.7" y="0" textLength="9.01" lengthAdjust="spacingAndGlyphs" font-size="33">r</tspan><tspan x="130.55" y="0" textLength="17.38" lengthAdjust="spacingAndGlyphs" font-size="33">e</tspan><tspan x="145.85" y="0" textLength="17.13" lengthAdjust="spacingAndGlyphs" font-size="33">e</tspan><tspan x="164.9" y="-13.4" textLength="12.06" lengthAdjust="spacingAndGlyphs" font-size="22.5">2</tspan><tspan x="176.55" y="1" textLength="11.18" lengthAdjust="spacingAndGlyphs" font-size="36.5">)</tspan></text></g>
<rect x="1356.4" y="1160.2" width="345.6" height="89.1" rx="5" ry="5" fill="#fff" fill-opacity="0.8" stroke="#ccc" stroke-opacity="0.8" stroke-width="1.9"/>
<circle cx="1398.4" cy="1182.3" r="7.25" fill="#1f77b4"/>
<path d="M1392.35 1216.55L1404.45 1228.65M1392.35 1228.65L1404.45 1216.55" stroke="#ff7f0e" stroke-width="2.15" fill="none"/>
<text font-size="29.5"><tspan x="1451.1" y="1190.4" textLength="94.1" lengthAdjust="spacingAndGlyphs">without</tspan> <tspan x="1555" y="1190.4" textLength="135.4" lengthAdjust="spacingAndGlyphs">constraints</tspan></text>
<text font-size="29.5"><tspan x="1451.1" y="1230.7" textLength="52.6" lengthAdjust="spacingAndGlyphs">with</tspan> <tspan x="1514.8" y="1230.7" textLength="133.6" lengthAdjust="spacingAndGlyphs">constraints</tspan></text>
<text x="1362.1" y="1389" font-size="42" text-anchor="middle" style="fill:#000;stroke:#000;stroke-width:0.3px">(d)</text>
</g>
</svg>
</body>
</html>
